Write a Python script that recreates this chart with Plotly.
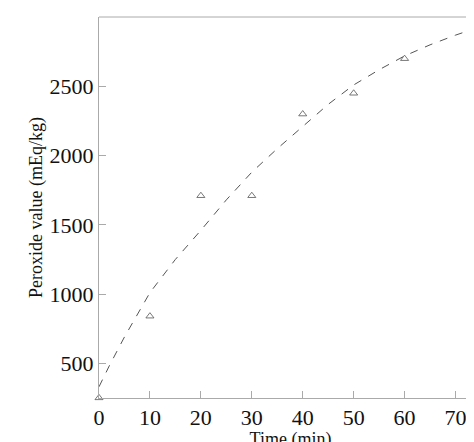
import plotly.graph_objects as go

time_obs = [0, 10, 20, 30, 40, 50, 60, 74]
pv_obs = [250, 840, 1710, 1710, 2300, 2450, 2700, 2930]
time_fit = [0, 2, 5, 10, 15, 20, 25, 30, 35, 40, 45, 50, 55, 60, 65, 70, 74]
pv_fit = [330, 480, 690, 1010, 1250, 1460, 1680, 1880, 2050, 2210, 2370, 2510, 2620, 2720, 2800, 2870, 2920]

fig = go.Figure()
fig.add_trace(go.Scatter(x=time_fit, y=pv_fit, mode="lines",
                         line=dict(color="#555", width=1, dash="8px,8px"), showlegend=False))
fig.add_trace(go.Scatter(x=time_obs, y=pv_obs, mode="markers",
                         marker=dict(symbol="triangle-up-open", size=7, color="#555", line=dict(width=0.8)),
                         showlegend=False, cliponaxis=False))
font = dict(family="Liberation Serif, DejaVu Serif, serif", color="#111")
fig.update_layout(
    width=474, height=442, margin=dict(l=91, r=0, t=9, b=52),
    plot_bgcolor="white", paper_bgcolor="white", font=font,
    xaxis=dict(range=[0, 75.2], tickvals=[0, 10, 20, 30, 40, 50, 60, 70], ticks="inside",
               ticklen=7, tickcolor="#aaa", showline=True, linecolor="#aaa", automargin=False,
               showgrid=False, zeroline=False, tickfont=dict(size=22),
               title=dict(text="Time (min)", font=dict(size=18), standoff=0)),
    yaxis=dict(range=[249, 3001], tickvals=[500, 1000, 1500, 2000, 2500, 3000], ticks="inside",
               ticklen=7, tickcolor="#aaa", showline=True, linecolor="#aaa", automargin=False,
               showgrid=False, zeroline=False, tickfont=dict(size=22),
               title=dict(text="Peroxide value (mEq/kg)", font=dict(size=18), standoff=2)),
)
fig.add_shape(type="line", xref="paper", yref="paper", x0=0, x1=1, y0=1, y1=1,
              line=dict(color="#aaa", width=1))
fig.write_html("out.html")
